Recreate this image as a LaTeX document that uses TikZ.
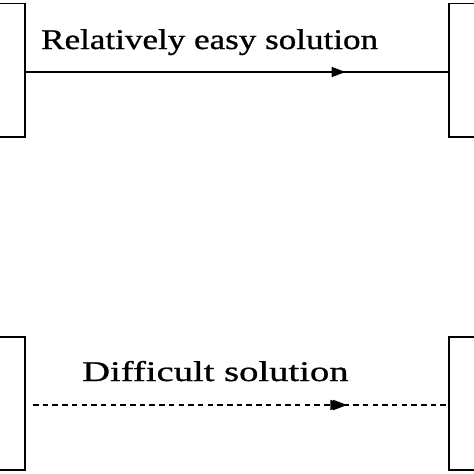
\documentclass[tikz,border=0pt]{standalone}
\usepackage{fontspec}
\usepackage{graphicx}
\setmainfont{Liberation Serif}
\newfontfamily\lblfont{Liberation Serif}[FakeBold=0.8]
\usetikzlibrary{arrows.meta,decorations.markings}
\begin{document}
\begin{tikzpicture}[x=1pt,y=-1pt,
  box/.style={draw,line width=1.8pt,minimum width=60pt,minimum height=133.5pt,inner sep=0pt},
  conn/.style={line width=1.6pt,postaction={decorate},
    decoration={markings,mark=at position 0.757 with {\arrow{Triangle[length=14pt,width=10pt]}}}},
  lbl/.style={font=\lblfont\fontsize{28.5}{30}\selectfont,anchor=base west,inner sep=0pt}]
\useasboundingbox (0,0) rectangle (474,474);
\clip (0,0) rectangle (474,474);
\node[box] (a1) at (-5,70.3) {};
\node[box] (b1) at (479,70.3) {};
\node[box] (a2) at (-5,403.5) {};
\node[box] (b2) at (479,403.5) {};
\coordinate (s2) at (33,405);
\draw[conn] (a1.east |- 0,72) -- (b1.west |- 0,72);
\draw[conn,dash pattern=on 5.5pt off 4.2pt,
  decoration={markings,mark=at position 0.75 with {\arrow{Triangle[length=14pt,width=10pt]}}}] (s2) -- (b2.west |- s2);
\node[lbl] (t1) at (41,49) {\scalebox{1.23}[1]{Relatively easy solution}};
\node[lbl] (t2) at (82,381) {\scalebox{1.355}[1]{Difficult solution}};
\end{tikzpicture}
\end{document}
